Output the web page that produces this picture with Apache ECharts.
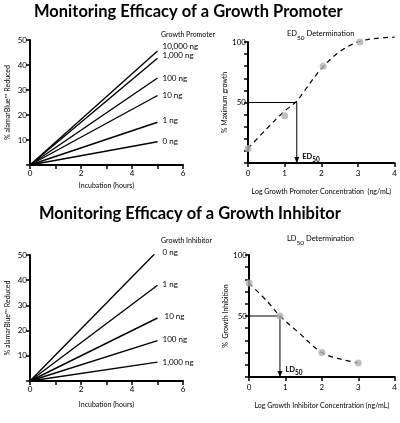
<!DOCTYPE html>
<html><head><meta charset="utf-8">
<script src="https://cdn.jsdelivr.net/npm/echarts@6/dist/echarts.min.js"></script>
<style>html,body{margin:0;padding:0;background:#fff}#c{width:400px;height:423px}</style>
</head><body><div id="c"></div>
<script>
// ---- data ----
const incubationHours = [0, 5];
const startReduced = 0;
const promoterDoses = ['10,000 ng', '1,000 ng', '100 ng', '10 ng', '1 ng', '0 ng'];
const promoterReducedAt5h = [45.6, 42.7, 34.8, 27.8, 17.1, 9.3];
const inhibitorDoses = ['0 ng', '1 ng', '10 ng', '100 ng', '1,000 ng'];
const inhibitorReducedAt5h = [51.6, 38, 25, 16, 7.5];

const edLogConc = [0, 1, 2.05, 3.05];
const edMaxGrowth = [12, 39, 80, 100];
const edFitLogConc = [0, 0.5, 1, 1.33, 1.5, 2, 2.5, 3, 3.5, 4];
const edFitGrowth = [12, 28, 43, 51, 58, 78, 92, 100, 103, 104];
const ed50 = 1.33;
const halfLevel = 50;

const ldLogConc = [0, 0.85, 2, 3];
const ldInhibition = [77, 50, 20, 11.5];
const ldFitLogConc = [0, 0.5, 0.85, 1.34, 2, 2.5, 3];
const ldFitInhibition = [77, 62, 50, 37, 20, 14.8, 11.5];
const ld50 = 0.85;

// ---- styles ----
const FONT = 'Lato';
const promoterLabelNudge = [-5, -3, 0, 0, -2, 0];
const inhibitorLabelNudge = [[0, 1], [0, -1], [2, -2], [0, -1], [0, 0]];

const axisLineStyle = {show: true, lineStyle: {color: '#000', width: 2}};
const tickStyle = {show: true, length: 4, lineStyle: {color: '#000', width: 1.5}};
const labelStyle = {color: '#000', fontSize: 8, fontFamily: FONT};
const nameStyle = {color: '#000', fontSize: 7, fontFamily: FONT};

function leftX(grid, gap) {
  return {type: 'value', gridIndex: grid, min: 0, max: 6, interval: 1,
    axisLine: axisLineStyle, axisTick: tickStyle, splitLine: {show: false},
    axisLabel: Object.assign({margin: 4, formatter: v => (v % 2 === 0 ? String(v) : '')}, labelStyle),
    name: 'Incubation (hours)', nameLocation: 'middle', nameGap: gap, nameTextStyle: nameStyle};
}
function leftY(grid, gap) {
  return {type: 'value', gridIndex: grid, min: 0, max: 50, interval: 10,
    axisLine: axisLineStyle, axisTick: tickStyle, splitLine: {show: false},
    axisLabel: Object.assign({margin: 3, formatter: v => (v === 0 ? '' : String(v))}, labelStyle),
    name: '% alamarBlue\u2122 Reduced', nameLocation: 'middle', nameGap: gap, nameTextStyle: nameStyle};
}
function rightX(grid, name, gap) {
  return {type: 'value', gridIndex: grid, min: 0, max: 4, interval: 1,
    axisLine: axisLineStyle, axisTick: tickStyle, splitLine: {show: false},
    axisLabel: Object.assign({margin: 6}, labelStyle),
    name: name, nameLocation: 'middle', nameGap: gap, nameTextStyle: nameStyle};
}
function rightY(grid, name, gap) {
  return {type: 'value', gridIndex: grid, min: 0, max: 100, interval: 10,
    axisLine: axisLineStyle, axisTick: tickStyle, splitLine: {show: false},
    axisLabel: Object.assign({margin: 2, formatter: v => (v === 50 || v === 100 ? String(v) : '')}, labelStyle),
    name: name, nameLocation: 'middle', nameGap: gap, nameTextStyle: nameStyle};
}

function doseSeries(grid, names, ends, nudges) {
  return names.map((n, i) => {
    const nud = Array.isArray(nudges[i]) ? nudges[i] : [0, nudges[i]];
    return {
      type: 'line', name: n, xAxisIndex: grid, yAxisIndex: grid, symbol: 'none', silent: true,
      lineStyle: {color: '#000', width: 1.4},
      data: [[incubationHours[0], startReduced], [incubationHours[1], ends[i]]],
      endLabel: {show: true, formatter: '{a}', distance: 5, offset: nud,
        color: '#000', fontSize: 8, fontFamily: FONT}
    };
  });
}

const sub = {
  a: {fontSize: 7.5, fontFamily: FONT, fontWeight: 'normal', color: '#000', lineHeight: 11, verticalAlign: 'top'},
  b: {fontSize: 6.5, fontFamily: FONT, fontWeight: 'normal', color: '#000', lineHeight: 11, verticalAlign: 'bottom'}
};
const subBold = {
  a: {fontSize: 7.5, fontFamily: FONT, fontWeight: 'bold', color: '#000', lineHeight: 11, verticalAlign: 'top'},
  b: {fontSize: 6.5, fontFamily: FONT, fontWeight: 'bold', color: '#000', lineHeight: 11, verticalAlign: 'bottom'}
};

function fitSeries(grid, xs, ys) {
  return {type: 'line', xAxisIndex: grid, yAxisIndex: grid, symbol: 'none', smooth: 0.35, clip: false,
    silent: true, z: 2, lineStyle: {color: '#000', width: 1.2, type: [5, 4]},
    data: xs.map((x, i) => [x, ys[i]])};
}
function pointSeries(grid, xs, ys) {
  return {type: 'scatter', xAxisIndex: grid, yAxisIndex: grid, symbolSize: 7, z: 5, silent: true,
    itemStyle: {color: '#b0b0b0'}, data: xs.map((x, i) => [x, ys[i]])};
}
function guideSeries(grid, x50, tag, dy) {
  return {type: 'line', xAxisIndex: grid, yAxisIndex: grid, symbol: 'none', silent: true, z: 3,
    lineStyle: {color: '#000', width: 1},
    data: [[0, halfLevel], [x50, halfLevel], [x50, 0]],
    markPoint: {symbol: 'triangle', symbolSize: [5, 6], symbolRotate: 180, symbolOffset: [0, -3],
      itemStyle: {color: '#000'}, silent: true,
      label: {show: true, position: 'right', distance: 3, offset: [0, dy],
        formatter: '{a|' + tag + '}{b|50}', rich: subBold},
      data: [{coord: [x50, 0]}]}
  };
}

const plainTitle = {fontSize: 7, fontWeight: 'normal', color: '#000', fontFamily: FONT};
const bigTitle = {fontSize: 16.5, fontWeight: 'bold', color: '#000', fontFamily: FONT};

const chart = echarts.init(document.getElementById('c'));
chart.setOption({
  animation: false,
  backgroundColor: '#fff',
  textStyle: {fontFamily: FONT},
  title: [
    {text: 'Monitoring Efficacy of a Growth Promoter', left: 34, top: 3, padding: 0, textStyle: bigTitle},
    {text: 'Monitoring Efficacy of a Growth Inhibitor', left: 39, top: 205, padding: 0, textStyle: bigTitle},
    {text: 'Growth Promoter', left: 161, top: 31, padding: 0, textStyle: plainTitle},
    {text: 'Growth Inhibitor', left: 161, top: 237, padding: 0, textStyle: plainTitle},
    {text: '{a|ED}{b|50}{a| Determination}', left: 287, top: 30, padding: 0, textStyle: {fontWeight: 'normal', rich: sub}},
    {text: '{a|LD}{b|50}{a| Determination}', left: 287, top: 235, padding: 0, textStyle: {fontWeight: 'normal', rich: sub}}
  ],
  grid: [
    {left: 30, right: 217, top: 40, bottom: 258},
    {left: 248, right: 4, top: 42, bottom: 260},
    {left: 30, right: 217, top: 255, bottom: 42},
    {left: 249, right: 3, top: 255, bottom: 46}
  ],
  xAxis: [
    leftX(0, 17),
    rightX(1, 'Log Growth Promoter Concentration  (ng/mL)', 25),
    leftX(2, 20),
    rightX(3, 'Log Growth Inhibitor Concentration (ng/mL)', 25)
  ],
  yAxis: [
    leftY(0, 19),
    rightY(1, '% Maximum growth', 15),
    leftY(2, 19),
    rightY(3, '%  Growth Inhibition', 15)
  ],
  series: [].concat(
    doseSeries(0, promoterDoses, promoterReducedAt5h, promoterLabelNudge),
    doseSeries(2, inhibitorDoses, inhibitorReducedAt5h, inhibitorLabelNudge),
    [fitSeries(1, edFitLogConc, edFitGrowth), pointSeries(1, edLogConc, edMaxGrowth), guideSeries(1, ed50, 'ED', -2),
     fitSeries(3, ldFitLogConc, ldFitInhibition), pointSeries(3, ldLogConc, ldInhibition), guideSeries(3, ld50, 'LD', -3)]
  )
});
</script>
</body></html>
